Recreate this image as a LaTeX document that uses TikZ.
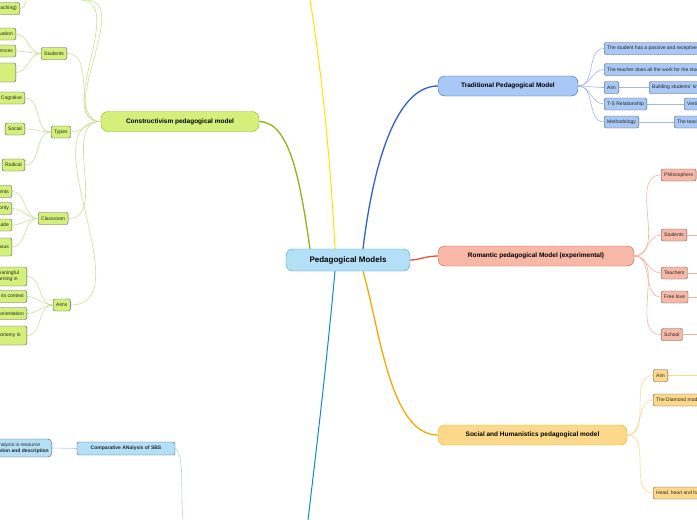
\documentclass[tikz,border=0pt]{standalone}
\usepackage{fontspec}
\setmainfont{Liberation Sans}
\usetikzlibrary{backgrounds}
\definecolor{bF}{HTML}{A9C8F5}\definecolor{bD}{HTML}{2F62C4}
\definecolor{rF}{HTML}{F7B8A8}\definecolor{rD}{HTML}{E0553A}
\definecolor{yF}{HTML}{FCD98A}\definecolor{yD}{HTML}{F5A800}
\definecolor{gF}{HTML}{D4F07A}\definecolor{gD}{HTML}{86B817}
\definecolor{cF}{HTML}{B3E0F7}\definecolor{cD}{HTML}{4A9CC9}
\tikzset{
 base/.style={draw=gray!70!black,rounded corners=2pt,inner xsep=3pt,inner ysep=0pt,text=black!85,font=\fontsize{5}{6}\selectfont},
 kid/.style={base,minimum height=12pt},
 big/.style={draw,rounded corners=7pt,minimum height=20pt,inner xsep=8pt,font=\fontsize{6.5}{8}\selectfont\bfseries},
 bl/.style={fill=bF},rd/.style={fill=rF},yl/.style={fill=yF},gr/.style={fill=gF},cy/.style={fill=cF},
 bE/.style={draw=bD!45,line width=0.6pt},rE/.style={draw=rD!45,line width=0.6pt},
 yE/.style={draw=yD!45,line width=0.6pt},gE/.style={draw=gD!45,line width=0.6pt},cE/.style={draw=cD!45,line width=0.6pt},
}
\begin{document}
\begin{tikzpicture}[x=1pt,y=-1pt]
\useasboundingbox (0,0) rectangle (697,520);
\clip (0,0) rectangle (697,520);
% main
\node[big,fill=cF,draw=cD,minimum width=124pt,minimum height=22pt,font=\fontsize{8}{9}\selectfont\bfseries] (root) at (348,260) {Pedagogical Models};
\node[big,fill=bF,draw=bD,minimum width=140pt] (trad) at (508,86) {Traditional Pedagogical Model};
\node[big,fill=rF,draw=rD,minimum width=196pt] (rom) at (536,256) {Romantic pedagogical Model (experimental)};
\node[big,fill=yF,draw=yD,minimum width=189pt] (soc) at (532.5,435) {Social and Humanistics pedagogical model};
\node[big,fill=gF,draw=gD,minimum width=158pt] (con) at (180,121.5) {Constructivism pedagogical model};
\node[base,fill=cF,minimum width=98pt,minimum height=13pt,font=\fontsize{5}{6}\selectfont\bfseries] (comp) at (126,448.5) {Comparative ANalysis of SBS};
\node[base,fill=cF,anchor=east,minimum height=18pt,align=left,rounded corners=4pt] (res) at (52,448) {Textual analysis is resource\\\textbf{Identification and description}};
\coordinate (topy) at (310,0); \coordinate (botb) at (308,520); \coordinate (botc) at (183,520);
% traditional kids
\node[kid,bl,anchor=west] (t1) at (604,48.5) {The student has a passive and receptive role};
\node[kid,bl,anchor=west] (t2) at (604,69.5) {The teacher does all the work for the students};
\node[kid,bl,anchor=west] (t3) at (604,87.5) {Aim};
\node[kid,bl,anchor=west] (t3a) at (649,87.5) {Building students' knowledge};
\node[kid,bl,anchor=west] (t4) at (604,104) {T-S Relationship};
\node[kid,bl,anchor=west] (t4a) at (684,104) {Vertical};
\node[kid,bl,anchor=west] (t5) at (604,122) {Methodology};
\node[kid,bl,anchor=west] (t5a) at (674,122) {The teacher explains};
% romantic kids
\node[kid,rd,anchor=west] (r1) at (661,175) {Philosophers};
\node[kid,rd,anchor=west] (r2) at (661,235) {Students};
\node[kid,rd,anchor=west] (r3) at (661,273) {Teachers};
\node[kid,rd,anchor=west] (r4) at (661,297) {Free love};
\node[kid,rd,anchor=west] (r5) at (661,334.5) {School};
\coordinate (r2x) at (697,235);\coordinate (r3x) at (697,273);\coordinate (r4x) at (697,297);\coordinate (r5x) at (697,334.5);
% social kids
\node[kid,yl,anchor=west] (s1) at (653,375.5) {Aim};
\node[kid,yl,anchor=west] (s2) at (653,400) {The Diamond model};
\node[kid,yl,anchor=west] (s3) at (653,493) {Head, heart and hands};
\coordinate (s1x) at (697,375.5);
% constructivism kids
\node[kid,gr,anchor=west] (cs) at (41,53.5) {Students};
\node[kid,gr,anchor=west] (ct) at (51,132) {Types};
\node[kid,gr,anchor=west] (cc) at (38,218.5) {Classroom};
\node[kid,gr,anchor=west] (ca) at (53,305) {Aims};
\coordinate (cu1) at (80,0);\coordinate (cu2) at (86,0);
\node[kid,gr,anchor=east] (x0) at (20,8.5) {Learning (teaching)};
\coordinate (x0u) at (26,0);
\node[kid,gr,anchor=east] (s_1) at (16,34) {Motivation};
\node[kid,gr,anchor=east] (s_2) at (16,51) {Previous experiences};
\node[kid,gr,anchor=east,minimum height=19pt,minimum width=40pt] (s_3) at (16,72.5) {};
\node[kid,gr,anchor=east] (y1) at (25,98) {Cognitive};
\node[kid,gr,anchor=east] (y2) at (25,129) {Social};
\node[kid,gr,anchor=east] (y3) at (25,165) {Radical};
\node[kid,gr,anchor=east] (k1) at (12,191.5) {Environments};
\node[kid,gr,anchor=east] (k2) at (12,208.5) {Authority};
\node[kid,gr,anchor=east] (k3) at (12,225) {Guide};
\node[kid,gr,anchor=east,minimum height=18pt] (k4) at (12,247) {Autonomous};
\node[kid,gr,anchor=east,minimum height=19pt,minimum width=40pt,align=left] (a1) at (27,276.5) {Meaningful\\learning in};
\node[kid,gr,anchor=east] (a2) at (27,296.5) {Learning in its context};
\node[kid,gr,anchor=east] (a3) at (27,313.5) {Self-orientation};
\node[kid,gr,anchor=east,minimum height=19pt,minimum width=40pt] (a4) at (27,335.5) {Autonomy in};
\begin{scope}[on background layer]
\draw[draw=bD,line width=1.3pt] (root.north)++(15,0) .. controls (375,150) and (400,86) .. (trad.west);
\draw[draw=rD,line width=1.3pt] (root.east) .. controls (420,260) and (425,256) .. (rom.west);
\draw[draw=yD,line width=1.3pt] (root.south)++(15,0) .. controls (380,330) and (390,435) .. (soc.west);
\draw[draw=gD,line width=1.3pt] (root.north)++(-38,0) .. controls (300,180) and (290,122) .. (con.east);
\draw[draw=yellow!85!orange,line width=1pt] (root.north)++(-13,0) .. controls (330,150) and (320,60) .. (topy);
\draw[draw=cyan!70!blue,line width=1pt] (root.south)++(-13,0) .. controls (325,380) and (315,460) .. (botb);
\draw[cE] (comp.east) .. controls (185,455) and (180,490) .. (botc);
\draw[cE] (res.east) -- (comp.west);
\foreach \a in {t1,t2,t3,t4,t5} \draw[bE] (trad.east) to[out=0,in=180] (\a.west);
\draw[bE] (t3)--(t3a); \draw[bE] (t4)--(t4a); \draw[bE] (t5)--(t5a);
\foreach \a in {r1,r2,r3,r4,r5} \draw[rE] (rom.east) to[out=0,in=180] (\a.west);
\draw[rE] (r2.east)--(r2x); \draw[rE] (r3.east)--(r3x); \draw[rE] (r4.east)--(r4x); \draw[rE] (r5.east)--(r5x);
\foreach \a in {s1,s2,s3} \draw[yE] (soc.east) to[out=0,in=180] (\a.west);
\draw[yE] (s1.east)--(s1x);
\foreach \a in {cs,ct,cc,ca,cu1,cu2} \draw[gE] (con.west) to[out=180,in=0] (\a);
\draw[gE] (x0.east) to[out=0,in=-90] (x0u);
\foreach \a in {s_1,s_2,s_3} \draw[gE] (cs.west) to[out=180,in=0] (\a.east);
\foreach \a in {y1,y2,y3} \draw[gE] (ct.west) to[out=180,in=0] (\a.east);
\foreach \a in {k1,k2,k3,k4} \draw[gE] (cc.west) to[out=180,in=0] (\a.east);
\foreach \a in {a1,a2,a3,a4} \draw[gE] (ca.west) to[out=180,in=0] (\a.east);
\end{scope}
\end{tikzpicture}
\end{document}
